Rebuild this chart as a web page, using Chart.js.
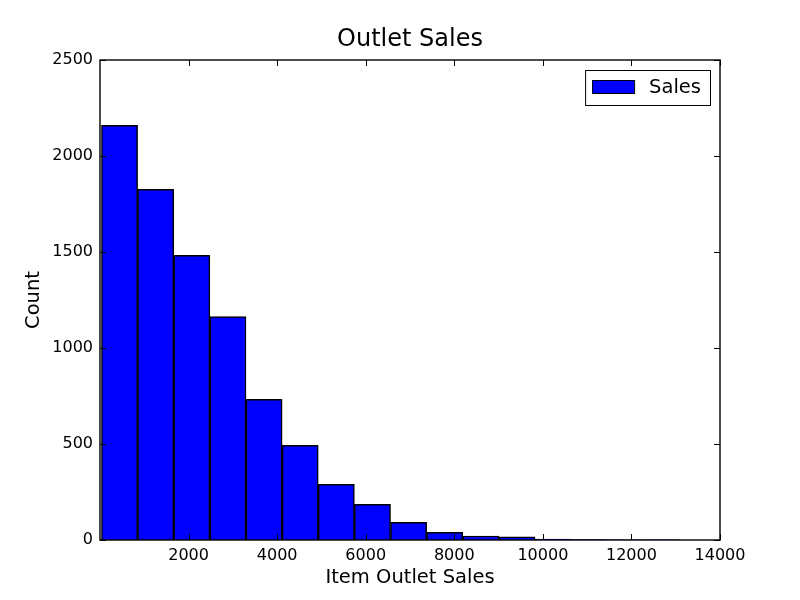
<!DOCTYPE html>
<html>
<head>
<meta charset="utf-8">
<title>Outlet Sales</title>
<script src="https://cdn.jsdelivr.net/npm/chart.js@4.4.0/dist/chart.umd.min.js"></script>
<style>
  html, body { margin: 0; padding: 0; background: #fff; }
  #wrap { width: 800px; height: 600px; }
</style>
</head>
<body>
<div id="wrap"><canvas id="salesHist" width="800" height="600"></canvas></div>
<script>
// Histogram of Item Outlet Sales: 16 bins
const binEdges = [33.29, 849.14, 1664.99, 2480.84, 3296.69, 4112.54, 4928.39, 5744.24,
                  6560.09, 7375.94, 8191.79, 9007.64, 9823.49, 10639.34, 11455.19, 12271.04, 13086.89];
const binCounts = [2160, 1826, 1483, 1163, 733, 493, 290, 186, 92, 40, 21, 16, 5, 2, 1, 1];
const xTicks = [2000, 4000, 6000, 8000, 10000, 12000, 14000];
const yTicks = [0, 500, 1000, 1500, 2000, 2500];

const FONT = "'DejaVu Sans', 'Liberation Sans', sans-serif";
const TITLE = 'Outlet Sales';

// bars sit at the middle of each bin
const histPoints = binCounts.map((c, i) => ({ x: (binEdges[i] + binEdges[i + 1]) / 2, y: c }));

// matplotlib-like box with inward tick marks on all four sides, title over the plot area
const frameAndTicks = {
    id: 'frameAndTicks',
    afterDatasetsDraw(chart) {
        const { ctx, chartArea: a, scales: { x, y } } = chart;
        ctx.save();
        ctx.strokeStyle = '#000';
        ctx.lineWidth = 1;
        ctx.beginPath();
        xTicks.forEach(v => {
            const px = Math.round(x.getPixelForValue(v)) + 0.5;
            ctx.moveTo(px, a.bottom); ctx.lineTo(px, a.bottom - 6);
            ctx.moveTo(px, a.top); ctx.lineTo(px, a.top + 6);
        });
        yTicks.forEach(v => {
            const py = Math.round(y.getPixelForValue(v)) + 0.5;
            ctx.moveTo(a.left, py); ctx.lineTo(a.left + 6, py);
            ctx.moveTo(a.right, py); ctx.lineTo(a.right - 6, py);
        });
        ctx.stroke();
        ctx.lineWidth = 1.4;
        ctx.strokeRect(a.left, a.top, a.right - a.left, a.bottom - a.top);

        ctx.fillStyle = '#000';
        ctx.font = '24px ' + FONT;
        ctx.textAlign = 'center';
        ctx.textBaseline = 'alphabetic';
        ctx.fillText(TITLE, (a.left + a.right) / 2, 46);
        ctx.restore();
    }
};

// legend drawn inside the upper right corner
const insideLegend = {
    id: 'insideLegend',
    afterDraw(chart) {
        const { ctx, chartArea: a } = chart;
        const ds = chart.data.datasets[0];
        ctx.save();
        ctx.font = '19.5px ' + FONT;
        const tw = ctx.measureText(ds.label).width;
        const w = 7 + 42 + 15 + tw + 9;
        const h = 35;
        const left = a.right - 10 - w;
        const top = a.top + 10;
        ctx.fillStyle = '#fff';
        ctx.fillRect(left, top, w, h);
        ctx.strokeStyle = '#000';
        ctx.lineWidth = 1;
        ctx.strokeRect(left + 0.5, top + 0.5, w, h);
        ctx.fillStyle = ds.backgroundColor;
        ctx.fillRect(left + 7, top + 10, 42, 13);
        ctx.strokeRect(left + 7.5, top + 10.5, 42, 13);
        ctx.fillStyle = '#000';
        ctx.textBaseline = 'middle';
        ctx.fillText(ds.label, left + 64, top + 17.5);
        ctx.restore();
    }
};

new Chart(document.getElementById('salesHist').getContext('2d'), {
    type: 'bar',
    data: {
        datasets: [{
            label: 'Sales',
            data: histPoints,
            backgroundColor: '#0000ff',
            borderColor: '#000000',
            borderWidth: 1.5,
            borderSkipped: 'start',
            barPercentage: 1,
            categoryPercentage: 1
        }]
    },
    options: {
        responsive: false,
        animation: false,
        devicePixelRatio: 1,
        layout: { padding: { left: 0, right: 80, top: 60, bottom: 0 } },
        plugins: {
            legend: { display: false },
            tooltip: { enabled: false },
            title: { display: false }
        },
        scales: {
            x: {
                type: 'linear',
                offset: false,
                min: 0,
                max: 14000,
                grid: { display: false, drawTicks: false, offset: false },
                border: { display: false },
                afterBuildTicks: s => { s.ticks = xTicks.map(v => ({ value: v })); },
                afterFit: s => { s.height = 60; },
                ticks: {
                    color: '#000',
                    padding: 6,
                    maxRotation: 0,
                    autoSkip: false,
                    font: { family: FONT, size: 16 },
                    callback: v => String(v)
                },
                title: {
                    display: true,
                    text: 'Item Outlet Sales',
                    color: '#000',
                    font: { family: FONT, size: 19.5 },
                    padding: { top: 0, bottom: 10 }
                }
            },
            y: {
                min: 0,
                max: 2500,
                grid: { display: false, drawTicks: false },
                border: { display: false },
                afterBuildTicks: s => { s.ticks = yTicks.map(v => ({ value: v })); },
                afterFit: s => { s.width = 100; },
                ticks: {
                    color: '#000',
                    padding: 7,
                    font: { family: FONT, size: 16 },
                    callback: v => String(v)
                },
                title: {
                    display: true,
                    text: 'Count',
                    color: '#000',
                    font: { family: FONT, size: 19.5 },
                    padding: { top: 22, bottom: 0 }
                }
            }
        }
    },
    plugins: [frameAndTicks, insideLegend]
});
</script>
</body>
</html>
